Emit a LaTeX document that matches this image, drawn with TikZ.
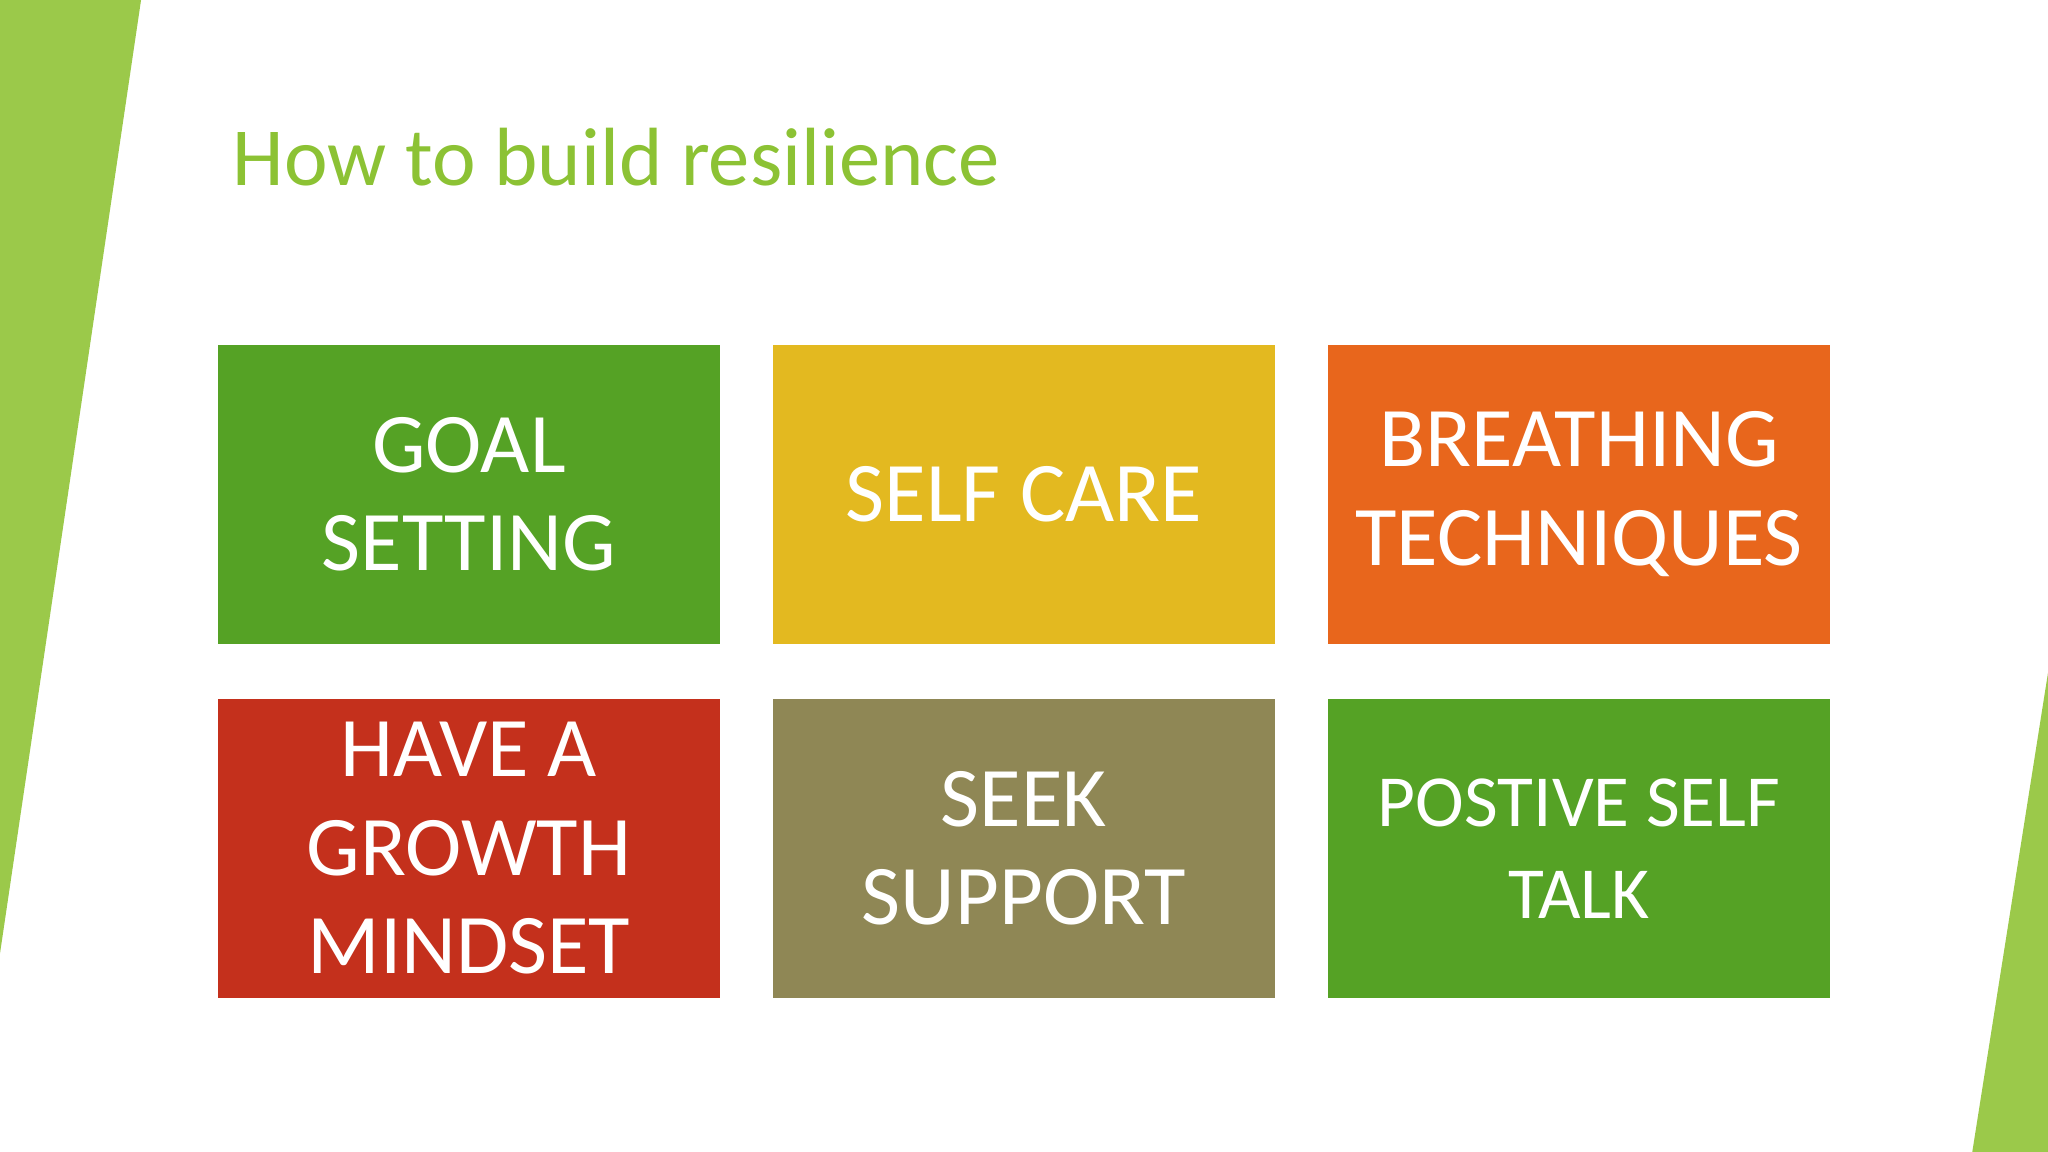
\documentclass[tikz,border=0pt]{standalone}
\usepackage{fontspec}
\setmainfont{Carlito}
\definecolor{tgreen}{HTML}{8CC234}
\definecolor{wgreen}{HTML}{9BC94A}
\definecolor{bgreen}{HTML}{55A225}
\definecolor{byellow}{HTML}{E3B920}
\definecolor{borange}{HTML}{E8661C}
\definecolor{bred}{HTML}{C4301C}
\definecolor{bolive}{HTML}{8F8755}
\begin{document}
\begin{tikzpicture}[x=0.02cm,y=-0.02cm,
  tile/.style={minimum width=384*0.02cm,minimum height=229*0.02cm,inner sep=0pt,text=white,align=center,font=\fontsize{37}{43}\selectfont}]
\useasboundingbox (0,0) rectangle (1568,882);
\fill[wgreen] (0,0) -- (108,0) -- (0,730) -- cycle;
\fill[wgreen] (1568,515) -- (1568,882) -- (1510,882) -- cycle;
\node[anchor=base west,text=tgreen,font=\fontsize{36}{40}\selectfont,inner sep=0pt] (title) at (178,142) {How to build resilience};
\node[tile,fill=bgreen] (a) at (359,378.5) {GOAL\\SETTING};
\node[tile,fill=byellow] (b) at (784,378.5) {SELF CARE};
\node[tile,fill=borange] (c) at (1209,378.5) {BREATHING\\TECHNIQUES};
\node[tile,fill=bred] (d) at (359,649.5) {HAVE A\\GROWTH\\MINDSET};
\node[tile,fill=bolive] (e) at (784,649.5) {SEEK\\SUPPORT};
\node[tile,fill=bgreen,font=\fontsize{32}{40}\selectfont] (f) at (1209,649.5) {POSTIVE SELF\\TALK};
\end{tikzpicture}
\end{document}
